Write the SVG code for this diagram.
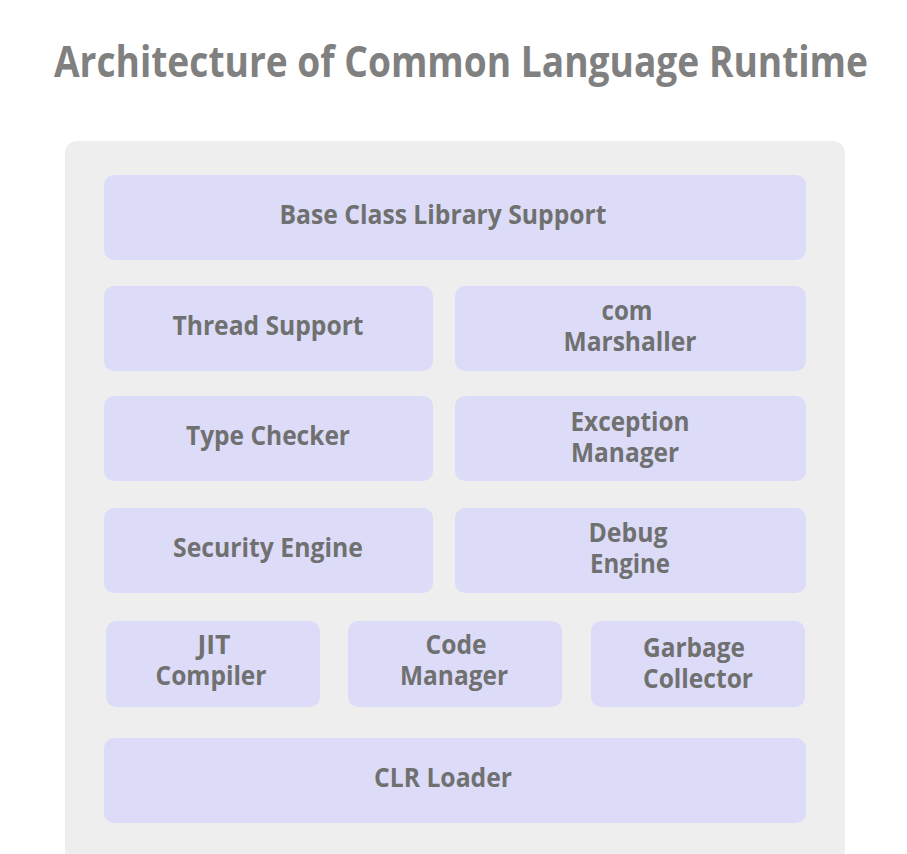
<svg xmlns="http://www.w3.org/2000/svg" width="907" height="854" viewBox="0 0 907 854">
<style>
.t{font-family:"Open Sans","Liberation Sans",sans-serif;font-weight:700;fill:#808080;font-size:43px;text-anchor:middle}
.n{fill:#dcdcf8}
.l{font-family:"Open Sans","Liberation Sans",sans-serif;font-weight:700;fill:#707070;font-size:27px;text-anchor:middle}
</style>
<rect width="907" height="854" fill="#ffffff"/>
<text class="t" x="461" y="77" textLength="814" lengthAdjust="spacingAndGlyphs">Architecture of Common Language Runtime</text>
<rect id="container" x="65" y="141" width="780" height="730" rx="12" fill="#eeeeee"/>
<g id="base"><rect class="n" x="104" y="175" width="702" height="85" rx="10"/><text class="l" x="443" y="224" textLength="327" lengthAdjust="spacingAndGlyphs">Base Class Library Support</text></g>
<g id="thread"><rect class="n" x="104" y="286" width="329" height="85" rx="10"/><text class="l" x="268" y="335" textLength="191" lengthAdjust="spacingAndGlyphs">Thread Support</text></g>
<g id="com"><rect class="n" x="455" y="286" width="351" height="85" rx="10"/><text class="l" x="627" y="320" textLength="51" lengthAdjust="spacingAndGlyphs">com</text><text class="l" x="630" y="351" textLength="133" lengthAdjust="spacingAndGlyphs">Marshaller</text></g>
<g id="type"><rect class="n" x="104" y="396" width="329" height="85" rx="10"/><text class="l" x="268" y="445" textLength="164" lengthAdjust="spacingAndGlyphs">Type Checker</text></g>
<g id="exception"><rect class="n" x="455" y="396" width="351" height="85" rx="10"/><text class="l" x="630" y="431" textLength="119" lengthAdjust="spacingAndGlyphs">Exception</text><text class="l" x="625" y="462" textLength="108" lengthAdjust="spacingAndGlyphs">Manager</text></g>
<g id="security"><rect class="n" x="104" y="508" width="329" height="85" rx="10"/><text class="l" x="268" y="557" textLength="190" lengthAdjust="spacingAndGlyphs">Security Engine</text></g>
<g id="debug"><rect class="n" x="455" y="508" width="351" height="85" rx="10"/><text class="l" x="628" y="542" textLength="79" lengthAdjust="spacingAndGlyphs">Debug</text><text class="l" x="630" y="573" textLength="80" lengthAdjust="spacingAndGlyphs">Engine</text></g>
<g id="jit"><rect class="n" x="106" y="621" width="214" height="86" rx="10"/><text class="l" x="214" y="654" textLength="33" lengthAdjust="spacingAndGlyphs">JIT</text><text class="l" x="211" y="685" textLength="111" lengthAdjust="spacingAndGlyphs">Compiler</text></g>
<g id="code"><rect class="n" x="348" y="621" width="214" height="86" rx="10"/><text class="l" x="456" y="654" textLength="61" lengthAdjust="spacingAndGlyphs">Code</text><text class="l" x="454" y="685" textLength="108" lengthAdjust="spacingAndGlyphs">Manager</text></g>
<g id="garbage"><rect class="n" x="591" y="621" width="214" height="86" rx="10"/><text class="l" x="694" y="657" textLength="102" lengthAdjust="spacingAndGlyphs">Garbage</text><text class="l" x="698" y="688" textLength="110" lengthAdjust="spacingAndGlyphs">Collector</text></g>
<g id="clr"><rect class="n" x="104" y="738" width="702" height="85" rx="10"/><text class="l" x="443" y="787" textLength="138" lengthAdjust="spacingAndGlyphs">CLR Loader</text></g>
<g id="connectors"></g>
</svg>
